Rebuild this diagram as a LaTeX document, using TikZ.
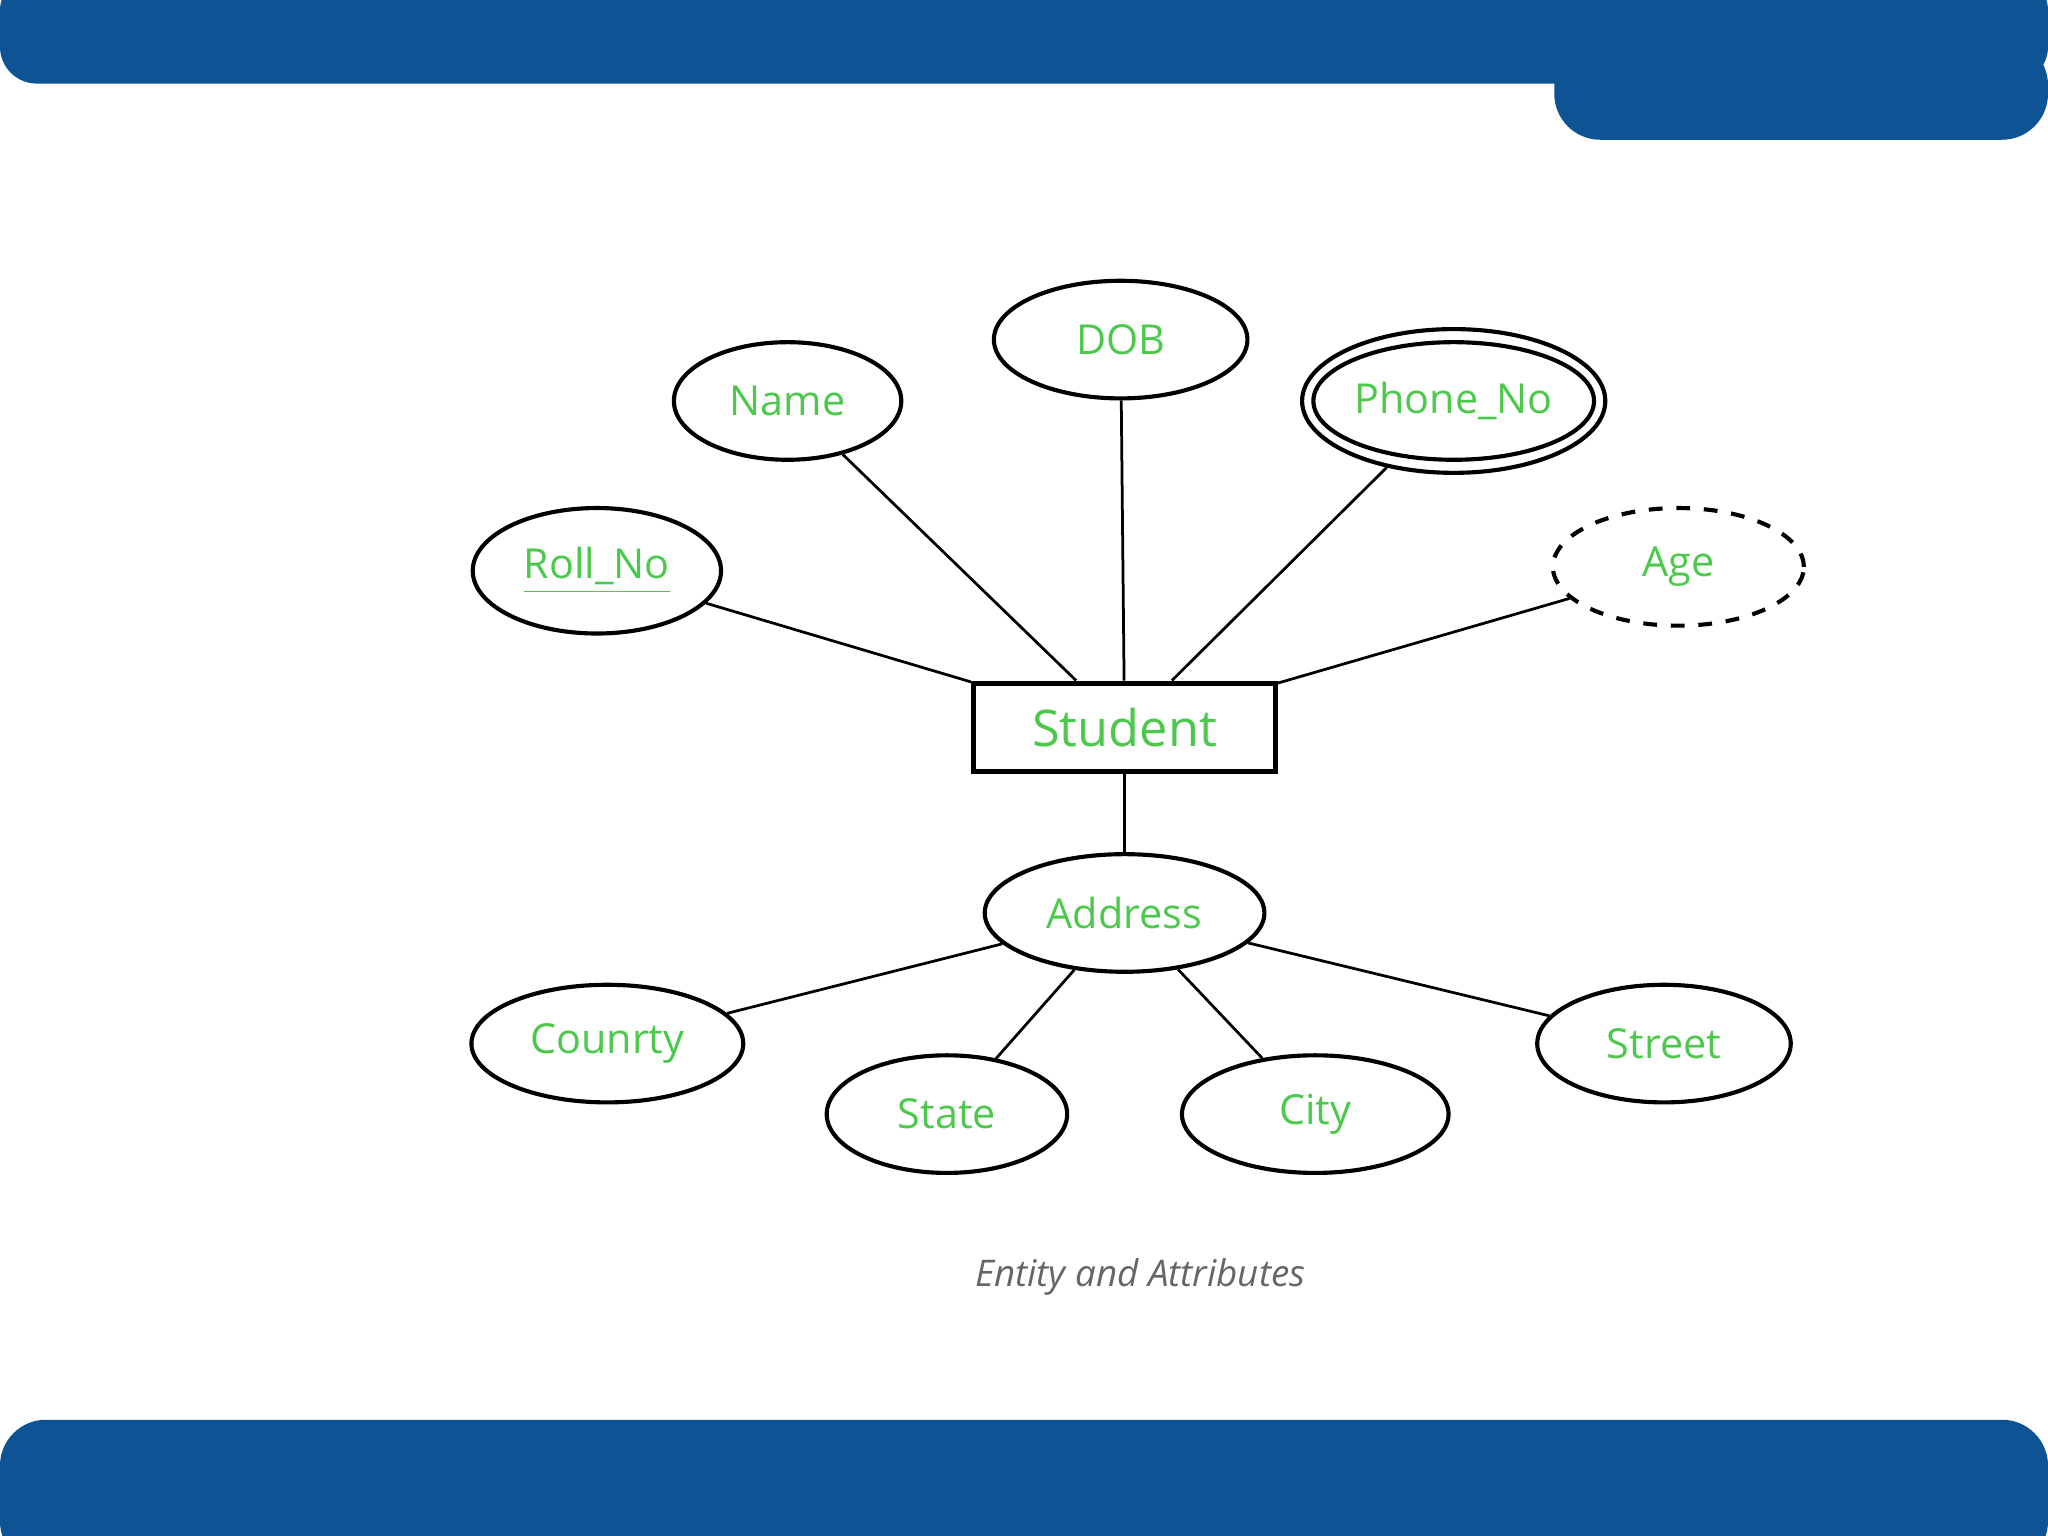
\documentclass[tikz,border=0pt]{standalone}
\usepackage{fontspec}
\setmainfont{Open Sans}
\usetikzlibrary{shapes.geometric}
\definecolor{barblue}{HTML}{0E5394}
\definecolor{attrgreen}{HTML}{4CC94C}
\tikzset{
  attr/.style={ellipse,draw=black,line width=0.9pt,inner sep=0pt,text=attrgreen,font=\fontsize{9}{10}\selectfont},
  ent/.style={rectangle,draw=black,line width=1.1pt,text=attrgreen,font=\fontsize{11}{12}\selectfont,minimum width=2.31cm,minimum height=0.68cm},
  link/.style={line width=0.6pt}
}
\begin{document}
\begin{tikzpicture}[x=0.01cm,y=-0.01cm]
\useasboundingbox (0,0) rectangle (1568,1176);
% bars
\fill[barblue,rounded corners=8] (0,-20) rectangle (1568,64);
\fill[barblue,rounded corners=10] (1190,30) rectangle (1568,107);
\fill[barblue,rounded corners=10] (0,1087) rectangle (1568,1200);
% nodes
\node[ent] (student) at (861,557) {Student};
\node[attr,minimum width=1.94cm,minimum height=0.90cm] (dob) at (858,260) {DOB};
\node[attr,minimum width=1.74cm,minimum height=0.90cm] (name) at (603,307) {Name};
\node[attr,minimum width=2.32cm,minimum height=1.10cm] (phone) at (1113,307) {};
\node[attr,minimum width=2.00cm,minimum height=0.90cm] (phonein) at (1113,307) {Phone\_No};
\node[attr,minimum width=1.90cm,minimum height=0.96cm] (roll) at (457,437) {\underline{Roll\_No}};
\node[attr,dashed,minimum width=1.92cm,minimum height=0.90cm] (age) at (1285,434) {Age};
\node[attr,minimum width=2.14cm,minimum height=0.90cm] (address) at (861,699) {Address};
\node[attr,minimum width=2.08cm,minimum height=0.90cm] (country) at (465,799) {Counrty};
\node[attr,minimum width=1.84cm,minimum height=0.90cm] (state) at (725,853) {State};
\node[attr,minimum width=2.04cm,minimum height=0.90cm] (city) at (1007,853) {City};
\node[attr,minimum width=1.94cm,minimum height=0.90cm] (street) at (1274,799) {Street};
% links
\draw[link] (student) -- (dob);
\draw[link] (student) -- (name);
\draw[link] (student) -- (phone);
\draw[link] (student) -- (roll);
\draw[link] (student) -- (age);
\draw[link] (student) -- (address);
\draw[link] (address) -- (country);
\draw[link] (address) -- (state);
\draw[link] (address) -- (city);
\draw[link] (address) -- (street);
% caption
\node[text=gray!80!black,font=\fontsize{8}{9}\selectfont\itshape] (cap) at (873,978) {Entity and Attributes};
\end{tikzpicture}
\end{document}
